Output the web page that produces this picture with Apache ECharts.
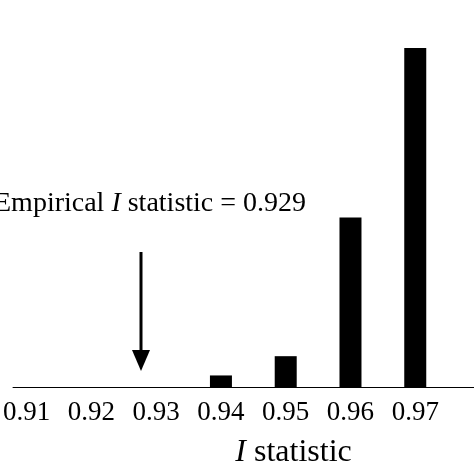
<!DOCTYPE html>
<html><head><meta charset="utf-8">
<script src="https://cdn.jsdelivr.net/npm/echarts@6/dist/echarts.min.js"></script>
<style>html,body{margin:0;background:#fff}#c{width:474px;height:474px}</style>
</head><body><div id="c"></div>
<script>
const tickValues = [0.91, 0.92, 0.93, 0.94, 0.95, 0.96, 0.97];
const binCenters = [0.94, 0.95, 0.96, 0.97];
const counts = [12, 32, 176, 352];
const empiricalValue = "0.929";

const serif = "Liberation Serif";
const chart = echarts.init(document.getElementById("c"));
chart.setOption({
  animation: false,
  grid: { left: 0, right: 0, top: 48, bottom: 74 },
  xAxis: {
    type: "value",
    min: 0.9079,
    max: 0.97907,
    splitLine: { show: false },
    axisLine: { onZero: false, lineStyle: { color: "#000", width: 1 } },
    axisTick: { show: false },
    axisLabel: {
      customValues: tickValues,
      formatter: v => v.toFixed(2),
      color: "#000", fontFamily: serif, fontSize: 27, margin: 12
    },
    name: "{i|I} statistic",
    nameLocation: "middle",
    nameGap: 50,
    nameTextStyle: {
      color: "#000", fontFamily: serif, fontSize: 32, padding: [0, 0, 0, 100],
      rich: { i: { fontStyle: "italic", fontFamily: serif, fontSize: 32, color: "#000" } }
    }
  },
  yAxis: { type: "value", min: 0, max: 352, show: false },
  series: [{
    type: "bar",
    data: binCenters.map((x, i) => [x, counts[i]]),
    barWidth: 22,
    itemStyle: { color: "#000" }
  }],
  graphic: [
    {
      type: "text", left: -6, top: 190,
      style: {
        text: "Empirical {i|I} statistic = " + empiricalValue,
        fill: "#000", font: "28px " + serif,
        rich: { i: { fontStyle: "italic", fontSize: 28, fontFamily: serif, fill: "#000" } }
      }
    },
    { type: "line", shape: { x1: 141, y1: 252, x2: 141, y2: 352 }, style: { stroke: "#000", lineWidth: 3 } },
    { type: "polygon", shape: { points: [[132, 350], [150, 350], [141, 371]] }, style: { fill: "#000" } }
  ]
});
</script></body></html>
